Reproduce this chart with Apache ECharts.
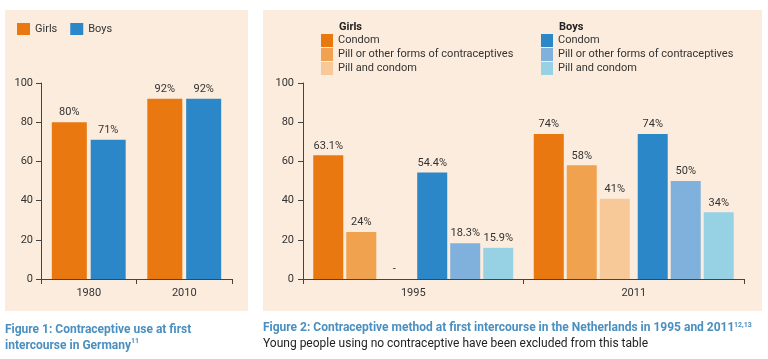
<!DOCTYPE html>
<html>
<head>
<meta charset="utf-8">
<script src="https://cdn.jsdelivr.net/npm/echarts@6/dist/echarts.min.js"></script>
<style>
html,body{margin:0;padding:0;background:#fff;}
#chart{width:768px;height:359px;}
</style>
</head>
<body>
<div id="chart"></div>
<script>
// ---- Data ----
const yearsDE = ['1980', '2010'];
const girlsDE = [80, 92];
const boysDE = [71, 92];

const yearsNL = ['1995', '2011'];
const girlsCondom = [63.1, 74];
const girlsPill = [24, 58];
const girlsPillCondom = [0, 41]; // 1995 shown as "-"
const boysCondom = [54.4, 74];
const boysPill = [18.3, 50];
const boysPillCondom = [15.9, 34];

const yTicks = [0, 20, 40, 60, 80, 100];

// ---- Styles ----
const FONT = 'Roboto, "Liberation Sans", sans-serif';
const TXT = '#333';
const BG = '#fcecdd';
const C = {
  gCondom: '#e8780f', gPill: '#f1a24e', gPC: '#f8c998',
  bCondom: '#2b87c7', bPill: '#80b1dc', bPC: '#97d2e4'
};

const chart = echarts.init(document.getElementById('chart'), null, {renderer: 'canvas'});

const labelCfg = {
  show: true, position: 'top', distance: 4, color: TXT, fontSize: 11, fontFamily: FONT,
  formatter: p => (p.value === 0 ? '-' : p.value + '%')
};

function yAxis(gi, margin) {
  return {
    gridIndex: gi, type: 'value', min: yTicks[0], max: yTicks[yTicks.length - 1], interval: 20,
    axisLine: {show: true, lineStyle: {color: '#444', width: 1}},
    axisTick: {show: true, length: 5, lineStyle: {color: '#444'}},
    axisLabel: {color: TXT, fontSize: 11, fontFamily: FONT, margin: margin},
    splitLine: {show: false}
  };
}
function xAxis(gi, data) {
  return {
    gridIndex: gi, type: 'category', data: data,
    axisLine: {show: true, lineStyle: {color: '#444', width: 1}},
    axisTick: {show: true, length: 5, lineStyle: {color: '#444'}},
    axisLabel: {color: TXT, fontSize: 11, fontFamily: FONT, margin: 9}
  };
}
function nlSeries(name, data, color) {
  return {
    name: name, type: 'bar', xAxisIndex: 1, yAxisIndex: 1, data: data,
    barWidth: 30, barGap: '10%', itemStyle: {color: color}, label: labelCfg
  };
}

const stripPrefix = n => n.replace(/^(Girls|Boys) /, '');

const option = {
  animation: false,
  backgroundColor: '#fff',
  textStyle: {fontFamily: FONT},
  graphic: [
    {type: 'rect', z: -10, shape: {x: 5, y: 10, width: 243, height: 301}, style: {fill: BG}},
    {type: 'rect', z: -10, shape: {x: 263, y: 10, width: 499, height: 301}, style: {fill: BG}},
    {type: 'text', left: 339, top: 22, style: {text: 'Girls', fontSize: 11, fontWeight: 'bold', fill: '#222', fontFamily: FONT}},
    {type: 'text', left: 559, top: 22, style: {text: 'Boys', fontSize: 11, fontWeight: 'bold', fill: '#222', fontFamily: FONT}},
    {type: 'text', left: 5, top: 322, style: {text: 'Figure 1: Contraceptive use at first\nintercourse in Germany', fontSize: 12, lineHeight: 16, fontWeight: 'bold', fill: '#4a8fc0', fontFamily: FONT}},
    {type: 'text', left: 131, top: 338, style: {text: '11', fontSize: 7, fontWeight: 'bold', fill: '#4a8fc0', fontFamily: FONT}},
    {type: 'text', left: 263, top: 322, style: {text: 'Figure 2: Contraceptive method at first intercourse in the Netherlands in 1995 and 2011', fontSize: 12, fontWeight: 'bold', fill: '#4a8fc0', fontFamily: FONT}},
    {type: 'text', left: 734, top: 322, style: {text: '12,13', fontSize: 7, fontWeight: 'bold', fill: '#4a8fc0', fontFamily: FONT}},
    {type: 'text', left: 263, top: 338, style: {text: 'Young people using no contraceptive have been excluded from this table', fontSize: 12, fill: '#222', fontFamily: FONT}}
  ],
  legend: [
    {
      data: ['Girls', 'Boys'], left: 17, top: 23, padding: 0, orient: 'horizontal',
      itemWidth: 13, itemHeight: 12, itemGap: 13, icon: 'rect',
      textStyle: {color: TXT, fontSize: 11, fontFamily: FONT}
    },
    {
      data: ['Girls Condom', 'Girls Pill or other forms of contraceptives', 'Girls Pill and condom'],
      left: 321, top: 34, padding: 0, orient: 'vertical', itemWidth: 12, itemHeight: 13, itemGap: 1,
      icon: 'rect', formatter: stripPrefix,
      textStyle: {color: TXT, fontSize: 11, fontFamily: FONT}
    },
    {
      data: ['Boys Condom', 'Boys Pill or other forms of contraceptives', 'Boys Pill and condom'],
      left: 541, top: 34, padding: 0, orient: 'vertical', itemWidth: 12, itemHeight: 13, itemGap: 1,
      icon: 'rect', formatter: stripPrefix,
      textStyle: {color: TXT, fontSize: 11, fontFamily: FONT}
    }
  ],
  grid: [
    {left: 41, right: 536, top: 83, bottom: 80},
    {left: 303, right: 24, top: 83, bottom: 80}
  ],
  xAxis: [xAxis(0, yearsDE), xAxis(1, yearsNL)],
  yAxis: [yAxis(0, 8), yAxis(1, 9)],
  series: [
    {name: 'Girls', type: 'bar', xAxisIndex: 0, yAxisIndex: 0, data: girlsDE, barWidth: 35, barGap: '11%',
      itemStyle: {color: C.gCondom}, label: labelCfg},
    {name: 'Boys', type: 'bar', xAxisIndex: 0, yAxisIndex: 0, data: boysDE, barWidth: 35, barGap: '11%',
      itemStyle: {color: C.bCondom}, label: labelCfg},
    nlSeries('Girls Condom', girlsCondom, C.gCondom),
    nlSeries('Girls Pill or other forms of contraceptives', girlsPill, C.gPill),
    nlSeries('Girls Pill and condom', girlsPillCondom, C.gPC),
    {name: 'spacer', type: 'bar', xAxisIndex: 1, yAxisIndex: 1, data: [null, null], barWidth: 4.5, barGap: '10%', silent: true},
    nlSeries('Boys Condom', boysCondom, C.bCondom),
    nlSeries('Boys Pill or other forms of contraceptives', boysPill, C.bPill),
    nlSeries('Boys Pill and condom', boysPillCondom, C.bPC)
  ]
};
chart.setOption(option);
</script>
</body>
</html>
